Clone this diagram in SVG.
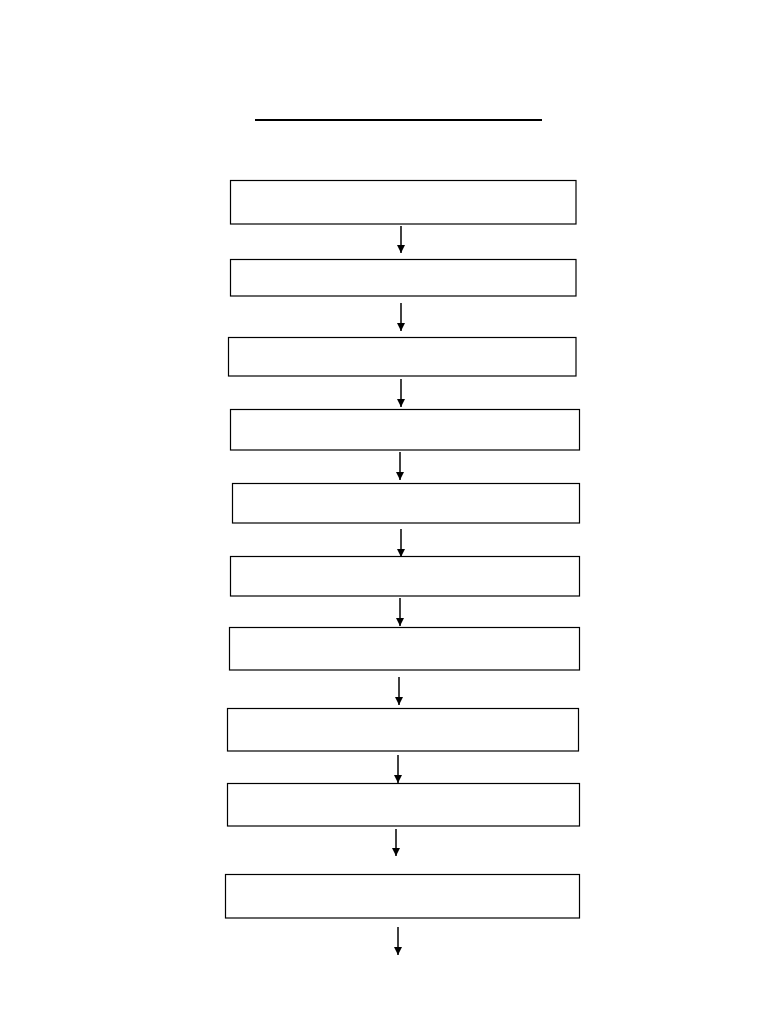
<svg xmlns="http://www.w3.org/2000/svg" width="768" height="1024" viewBox="0 0 768 1024">
<style>
.box{fill:#fff;stroke:#000;stroke-width:1.2}
.conn{stroke:#000;stroke-width:1.5;fill:none}
</style>
<defs>
<marker id="ah" markerUnits="userSpaceOnUse" markerWidth="10" markerHeight="10" refX="4" refY="8" orient="auto-start-reverse" viewBox="0 0 8 8">
<path d="M0,0 L8,0 L4,8 Z" fill="#000" transform="rotate(-90 4 4)"/>
</marker>
<marker id="a" markerUnits="userSpaceOnUse" markerWidth="8" markerHeight="8" refX="8" refY="4" orient="auto" viewBox="0 0 8 8">
<path d="M0,0 L8,4 L0,8 Z" fill="#000"/>
</marker>
</defs>
<rect width="768" height="1024" fill="#fff"/>
<line x1="255" y1="120" x2="542" y2="120" stroke="#000" stroke-width="2"/>
<g id="n1"><rect class="box" x="230.5" y="180.5" width="345.5" height="43.5"/></g>
<g id="n2"><rect class="box" x="230.5" y="259.5" width="345.5" height="36.5"/></g>
<g id="n3"><rect class="box" x="228.5" y="337.5" width="347.5" height="38.5"/></g>
<g id="n4"><rect class="box" x="230.5" y="409.5" width="349" height="40.5"/></g>
<g id="n5"><rect class="box" x="232.5" y="483.5" width="347" height="39.5"/></g>
<g id="n6"><rect class="box" x="230.5" y="556.5" width="349" height="39.5"/></g>
<g id="n7"><rect class="box" x="229.5" y="627.5" width="350" height="42.5"/></g>
<g id="n8"><rect class="box" x="227.5" y="708.5" width="351" height="42.5"/></g>
<g id="n9"><rect class="box" x="227.5" y="783.5" width="352" height="42.5"/></g>
<g id="n10"><rect class="box" x="225.5" y="874.5" width="354" height="43.5"/></g>
<g id="connectors">
<line class="conn" x1="401" y1="226" x2="401" y2="253" marker-end="url(#a)"/>
<line class="conn" x1="401" y1="303" x2="401" y2="331" marker-end="url(#a)"/>
<line class="conn" x1="401" y1="379" x2="401" y2="407" marker-end="url(#a)"/>
<line class="conn" x1="400" y1="452" x2="400" y2="480" marker-end="url(#a)"/>
<line class="conn" x1="401" y1="529" x2="401" y2="557" marker-end="url(#a)"/>
<line class="conn" x1="400" y1="598" x2="400" y2="626" marker-end="url(#a)"/>
<line class="conn" x1="399" y1="677" x2="399" y2="705" marker-end="url(#a)"/>
<line class="conn" x1="398" y1="755" x2="398" y2="783" marker-end="url(#a)"/>
<line class="conn" x1="396" y1="829" x2="396" y2="856" marker-end="url(#a)"/>
<line class="conn" x1="398" y1="927" x2="398" y2="955" marker-end="url(#a)"/>
</g>
</svg>
